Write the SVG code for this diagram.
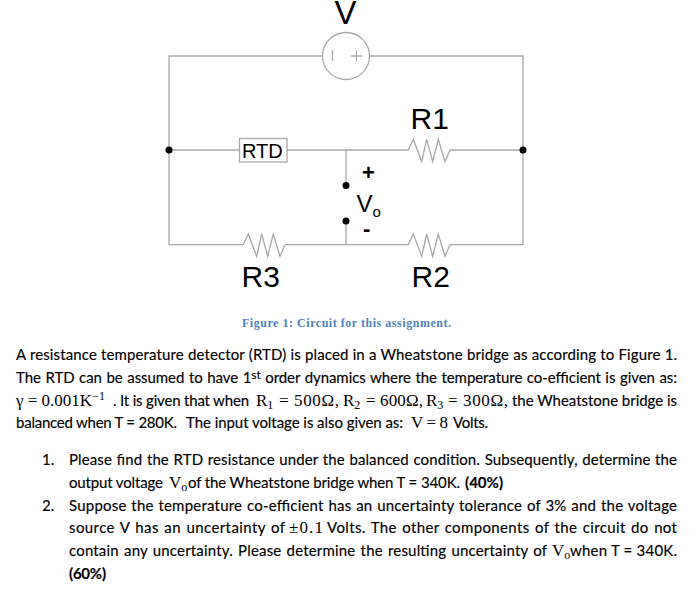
<svg xmlns="http://www.w3.org/2000/svg" width="696" height="600" viewBox="0 0 696 600">
<style>
.w{fill:none;stroke:#a8a8a8;stroke-width:1.3}
.d{fill:#000}
.a{font-family:"Liberation Sans",Arial,sans-serif;fill:#000}
.t{font-family:Lato,"Open Sans",sans-serif;font-size:15px;fill:#000;stroke:#000;stroke-width:.15}
.b{font-weight:700}
.m{font-family:"Liberation Serif","Times New Roman",serif;font-size:17px;fill:#000}
.s{font-size:12px}
.c{font-family:"Liberation Serif","Times New Roman",serif;font-weight:700;font-size:12px;fill:#4f81bd}
</style>
<rect width="696" height="600" fill="#fff"/>
<g id="connectors">
<path class="w" d="M322.500 56H169V150M369.500 56H523V150M169 150H239.500M287 150H408.300M450 150H523M169 150V244.700H243.300M285 244.700H408.300M450 244.700H523V150M346 150V185.500M346 221V244.700"/>
</g>
<g id="source-V">
<circle class="w" cx="346" cy="56" r="23.500"/>
<path class="w" d="M332.500 50V61M351 56H362M356.500 50.500V61.500"/>
<text class="a" x="334.500" y="24" font-size="33">V</text>
</g>
<g id="RTD">
<rect class="w" x="239.500" y="138.500" width="47.500" height="23.500"/>
<text class="a" x="242" y="158" font-size="20">RTD</text>
</g>
<g id="R1">
<path class="w" d="M408.300 150L413.300 139.300L421.700 161.700L426.700 139.300L432.700 161.700L438.300 139.300L445 161.700L450 150"/>
<text class="a" x="410.500" y="129" font-size="30">R1</text>
</g>
<g id="R2">
<path class="w" d="M408.300 244.700L413.300 234L421.700 256.400L426.700 234L432.700 256.400L438.300 234L445 256.400L450 244.700"/>
<text class="a" x="411.500" y="287" font-size="30">R2</text>
</g>
<g id="R3">
<path class="w" d="M243.300 244.700L248.300 234L256.700 256.400L261.700 234L267.700 256.400L273.300 234L280 256.400L285 244.700"/>
<text class="a" x="241.500" y="287" font-size="30">R3</text>
</g>
<g id="node-left"><circle class="d" cx="169" cy="150" r="3.500"/></g>
<g id="node-right"><circle class="d" cx="523" cy="150" r="3.500"/></g>
<g id="Vo-terminals">
<circle class="d" cx="346" cy="185.500" r="3.500"/>
<circle class="d" cx="346" cy="221" r="3.500"/>
<text class="a" x="362" y="180" font-size="22" font-weight="700">+</text>
<text class="a" x="356.500" y="212" font-size="24">V<tspan font-size="15" dy="5">o</tspan></text>
<text class="a" x="363" y="236" font-size="22" font-weight="700">-</text>
</g>
<text class="c" x="242" y="327" textLength="209">Figure 1: Circuit for this assignment.</text>
<text class="t" x="16" y="360" textLength="661" word-spacing="0.2">A resistance temperature detector (RTD) is placed in a Wheatstone bridge as according to Figure 1.</text>
<text class="t" x="16" y="383" textLength="661" word-spacing="0.8">The RTD can be assumed to have 1<tspan class="s" dy="-4" font-size="10">st</tspan><tspan dy="4"> order dynamics where the temperature co-efficient is given as:</tspan></text>
<text class="m" x="16" y="406">γ = 0.001K<tspan class="s" dy="-6">−1</tspan></text>
<text class="t" x="113" y="406" textLength="136">. It is given that when</text>
<text class="m" x="256" y="406">R<tspan class="s" dy="3">1</tspan></text>
<text class="m" x="279" y="406" textLength="60">= 500Ω,</text>
<text class="m" x="343" y="406">R<tspan class="s" dy="3">2</tspan></text>
<text class="m" x="366" y="406" textLength="57">= 600Ω,</text>
<text class="m" x="426" y="406">R<tspan class="s" dy="3">3</tspan></text>
<text class="m" x="448" y="406" textLength="60">= 300Ω,</text>
<text class="t" x="512" y="406" textLength="165">the Wheatstone bridge is</text>
<text class="t" x="16" y="428" textLength="161">balanced when T = 280K.</text>
<text class="t" x="186" y="428" textLength="217">The input voltage is also given as:</text>
<text class="m" x="411" y="428" textLength="37">V = 8</text>
<text class="t" x="453" y="428" textLength="35">Volts.</text>
<text class="t" x="42" y="465">1.</text>
<text class="t" x="69" y="465" textLength="608" word-spacing="0.7">Please find the RTD resistance under the balanced condition. Subsequently, determine the</text>
<text class="t" x="69" y="488" textLength="94">output voltage</text>
<text class="m" x="169" y="488">V<tspan class="s" dy="3">o</tspan></text>
<text class="t" x="188" y="488" textLength="272">of the Wheatstone bridge when T = 340K.</text>
<text class="t b" x="465" y="488" textLength="38">(40%)</text>
<text class="t" x="42" y="511">2.</text>
<text class="t" x="69" y="511" textLength="608" word-spacing="0.7">Suppose the temperature co-efficient has an uncertainty tolerance of 3% and the voltage</text>
<text class="t" x="69" y="533" textLength="216" word-spacing="1.2">source V has an uncertainty of</text>
<text class="m" x="289" y="533" textLength="34">±0.1</text>
<text class="t" x="327" y="533" textLength="350" word-spacing="1.2">Volts. The other components of the circuit do not</text>
<text class="t" x="69" y="556" textLength="478" word-spacing="1.2">contain any uncertainty. Please determine the resulting uncertainty of</text>
<text class="m" x="552" y="556">V<tspan class="s" dy="3">o</tspan></text>
<text class="t" x="570" y="556" textLength="107">when T = 340K.</text>
<text class="t b" x="69" y="579" textLength="37">(60%)</text>
</svg>
